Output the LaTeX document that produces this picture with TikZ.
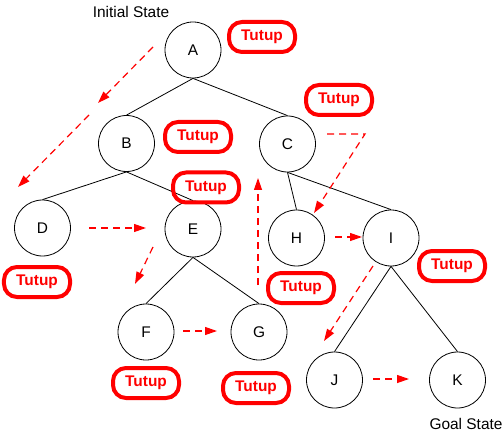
\documentclass[tikz,border=0pt]{standalone}
\usepackage{fontspec}
\setmainfont{Liberation Sans}
\usetikzlibrary{arrows.meta}
\begin{document}
\begin{tikzpicture}[x=1bp,y=-1bp,
  state/.style={circle,draw=black,line width=0.8bp,minimum size=56bp,inner sep=0pt,font=\fontsize{15.5}{18}\selectfont},
  tutup/.style={draw=red,line width=4bp,rounded corners=13bp,minimum width=66bp,minimum height=30bp,inner sep=0pt,text=red,font=\fontsize{15.5}{18}\selectfont\bfseries},
  lbl/.style={font=\fontsize{15.5}{18}\selectfont,inner sep=0pt},
  edge/.style={line width=0.8bp,black},
  move/.style={draw=red,line width=1.2bp,dash pattern=on 7bp off 5bp,-{Triangle[length=12bp,width=8bp]}}]
\useasboundingbox (0,0) rectangle (504,435);
% states
\node[state] (A) at (193,50) {A};
\node[state] (B) at (126.5,143.5) {B};
\node[state] (C) at (287.5,144) {C};
\node[state] (D) at (42.5,228) {D};
\node[state] (E) at (193,229) {E};
\node[state] (F) at (146,332) {F};
\node[state] (G) at (259,332) {G};
\node[state] (H) at (296.5,238) {H};
\node[state] (I) at (391,238) {I};
\node[state] (J) at (334.5,380) {J};
\node[state] (K) at (457.5,380) {K};
% labels
\node[lbl] (init) at (131,12) {Initial State};
\node[lbl] (goal) at (466,424) {Goal State};
% tree edges
\draw[edge] (A.south) -- (B.north);
\draw[edge] (A.south) -- (C.north);
\draw[edge] (B.south) -- (D.north);
\draw[edge] (B.south) -- (E.north);
\draw[edge] (C.south) -- (H.north);
\draw[edge] (C.south) -- (I.north);
\draw[edge] (E.south) -- (F.north);
\draw[edge] (E.south) -- (G.north);
\draw[edge] (I.south) -- (J.north);
\draw[edge] (I.south) -- (K.north);
% tutup boxes
\node[tutup] (t1) at (262,37) {Tutup};
\node[tutup] (t2) at (339,100) {Tutup};
\node[tutup] (t3) at (198,137) {Tutup};
\node[tutup] (t4) at (206,187.5) {Tutup};
\node[tutup] (t5) at (37,282) {Tutup};
\node[tutup] (t6) at (301,288) {Tutup};
\node[tutup] (t7) at (452,266) {Tutup};
\node[tutup] (t8) at (146,383) {Tutup};
\node[tutup] (t9) at (256,388) {Tutup};
% search arrows
\coordinate (a1s) at (153,47); \coordinate (a1e) at (98,103);
\coordinate (a2s) at (89,115); \coordinate (a2e) at (18,187);
\coordinate (a3s) at (327,134); \coordinate (a3m) at (365,134); \coordinate (a3e) at (314,213);
\coordinate (a4s) at (258,285); \coordinate (a4e) at (258,178);
\coordinate (a5s) at (89,228); \coordinate (a5e) at (146,228);
\coordinate (a6s) at (153,247); \coordinate (a6e) at (135,284);
\coordinate (a7s) at (183,331); \coordinate (a7e) at (217,331);
\coordinate (a8s) at (335,237); \coordinate (a8e) at (362,237);
\coordinate (a9s) at (373,266); \coordinate (a9e) at (324,341);
\coordinate (a10s) at (373,379); \coordinate (a10e) at (409,379);
\draw[move] (a1s) -- (a1e);
\draw[move] (a2s) -- (a2e);
\draw[move] (a3s) -- (a3m) -- (a3e);
\draw[move] (a4s) -- (a4e);
\draw[move] (a5s) -- (a5e);
\draw[move] (a6s) -- (a6e);
\draw[move] (a7s) -- (a7e);
\draw[move] (a8s) -- (a8e);
\draw[move] (a9s) -- (a9e);
\draw[move] (a10s) -- (a10e);
\end{tikzpicture}
\end{document}
